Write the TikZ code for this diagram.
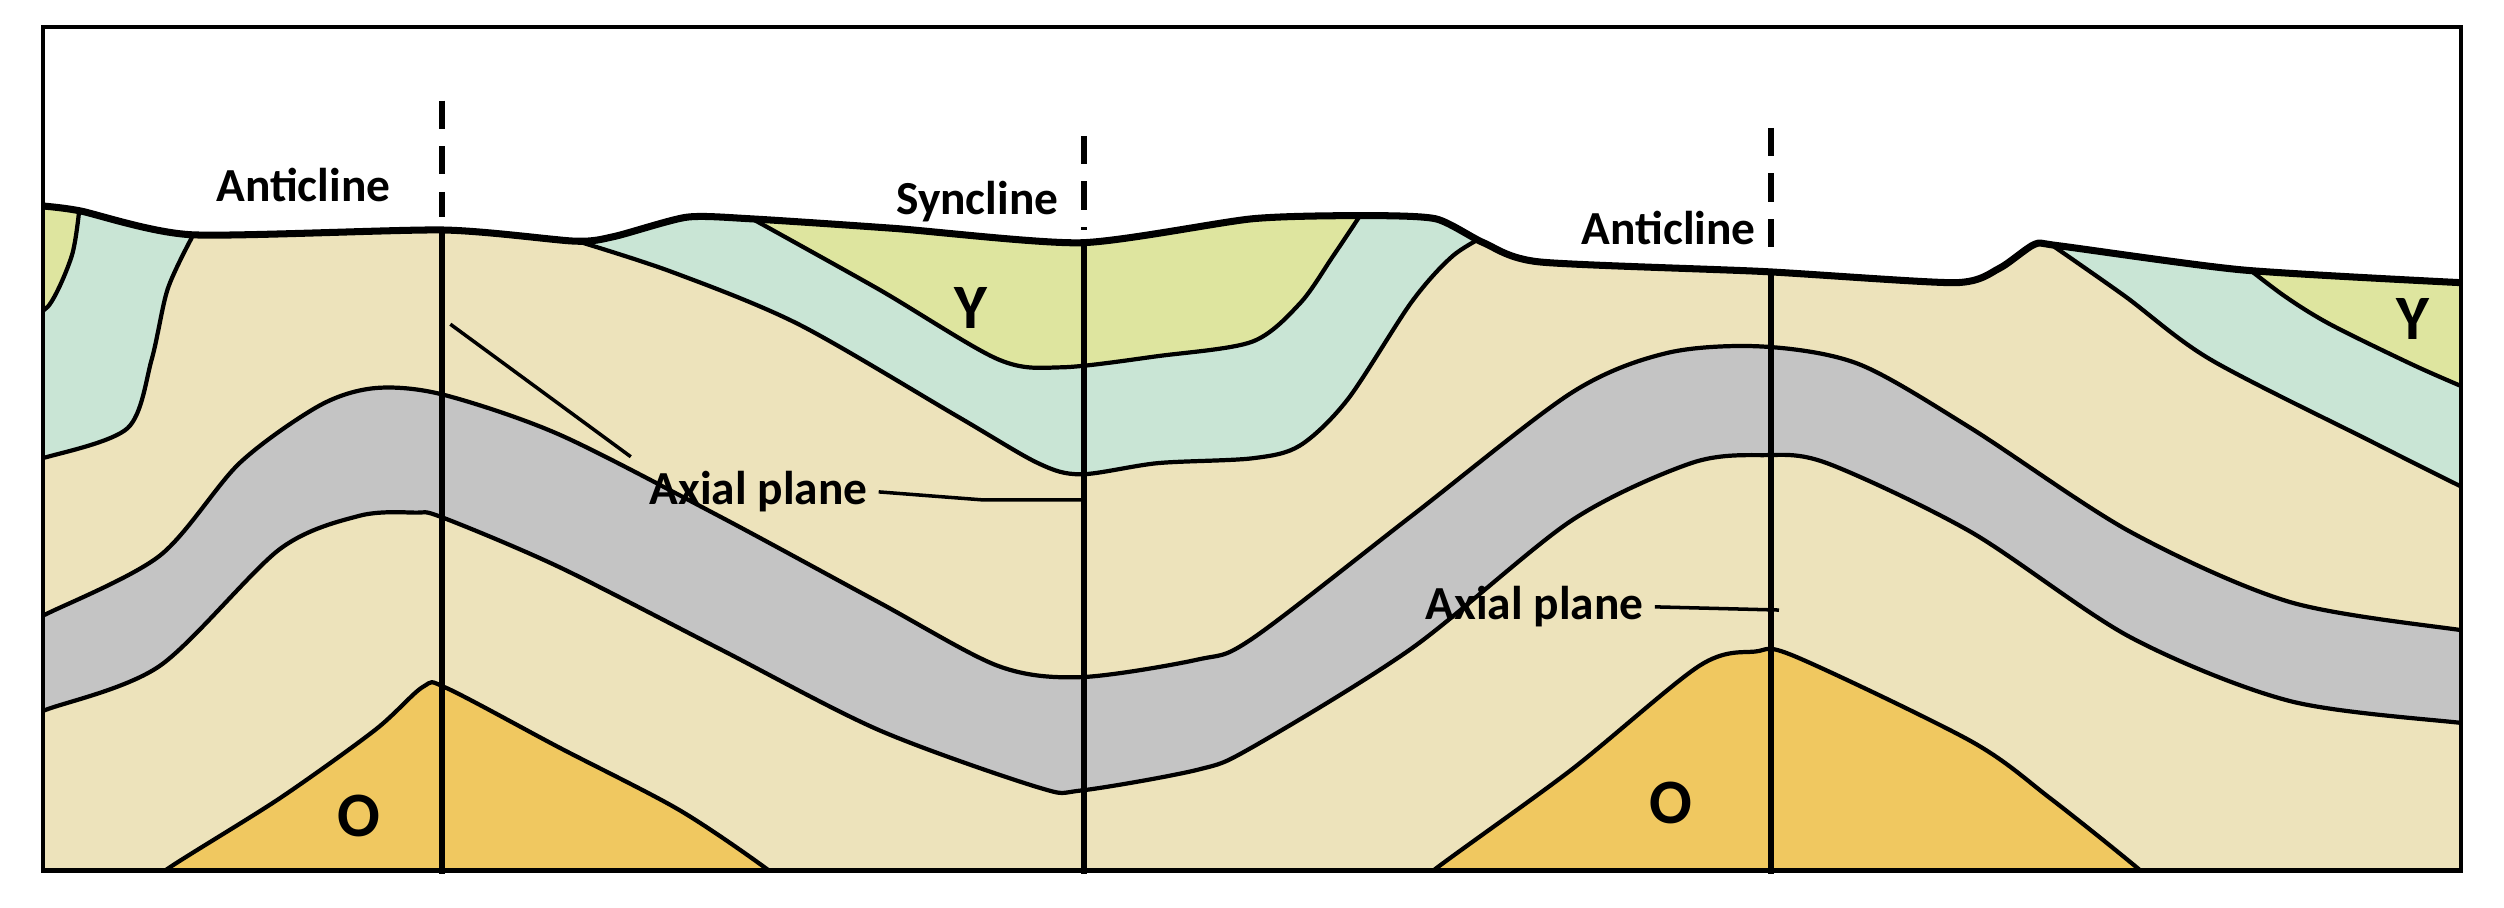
\documentclass[tikz,border=0pt]{standalone}
\usepackage{fontspec}
\setmainfont{Carlito}
\definecolor{beige}{HTML}{EDE3BB}
\definecolor{teal1}{HTML}{C9E5D5}
\definecolor{ygreen}{HTML}{DEE59F}
\definecolor{gray1}{HTML}{C4C4C4}
\definecolor{orng}{HTML}{F0C860}
\tikzset{
 layer/.style={draw=black,line width=1.2pt},
 lbl/.style={font=\bfseries\fontsize{13.5}{15}\selectfont,inner sep=1pt},
 big/.style={font=\bfseries\fontsize{18}{20}\selectfont,inner sep=1pt},
 axisline/.style={line width=1.7pt},
 axisdash/.style={line width=1.7pt,dash pattern=on 8pt off 5pt},
 leader/.style={line width=1pt}
}
\begin{document}
\begin{tikzpicture}[x=0.01597cm,y=-0.01597cm]
\useasboundingbox (0,0) rectangle (1568,568);
\def\surf{(27,129) (50,132) (120,147) (277,144) (360,151) (385,148) (430,136) (470,137) (560,143) (677,152) (784,137) (854,135) (899,137) (929,152) (964,164) (1104,170) (1224,177) (1252,168) (1274,153) (1290,154) (1404,169) (1541,177)}
\begin{scope}
\clip plot[smooth,tension=0.4] coordinates {\surf} -- (1541,545) -- (27,545) -- cycle;
\fill[beige] (0,0) rectangle (1568,568);
% left teal and Y
\fill[teal1,layer] plot[smooth] coordinates {(120,149) (105,181) (95,225) (80,268) (30,286) (10,288)} -- (10,80) -- (120,80) -- cycle;
\fill[ygreen,layer] plot[smooth] coordinates {(50,128) (45,160) (30,192) (10,200)} -- (10,80) -- cycle;
% middle teal and Y
\fill[teal1,layer] plot[smooth] coordinates {(355,149) (420,170) (500,203) (600,261) (650,290) (677,297) (725,290) (784,287) (814,279) (844,250) (884,189) (910,160) (935,145)} -- (935,80) -- (355,80) -- cycle;
\fill[ygreen,layer] plot[smooth] coordinates {(462,132) (550,181) (625,225) (665,230) (725,223) (784,214) (814,190) (835,160) (855,130)} -- (855,80) -- (462,80) -- cycle;
% right teal and Y
\fill[teal1,layer] plot[smooth] coordinates {(1277,148) (1330,185) (1384,225) (1484,276) (1544,306) (1560,312)} -- (1560,80) -- (1277,80) -- cycle;
\fill[ygreen,layer] plot[smooth] coordinates {(1400,162) (1430,185) (1459,203) (1510,228) (1544,243) (1560,250)} -- (1560,80) -- (1400,80) -- cycle;
% gray band
\fill[gray1,layer] plot[smooth] coordinates {(10,392) (30,384) (100,348) (150,290) (200,254) (235,243) (277,247) (350,272) (450,323) (550,377) (625,417) (677,424) (750,413) (784,400) (884,323) (984,246) (1044,221) (1104,217) (1164,228) (1234,268) (1334,333) (1434,377) (1544,395) (1560,397)}
 -- plot[smooth] coordinates {(1560,455) (1544,453) (1434,439) (1334,399) (1234,333) (1144,290) (1104,285) (1059,290) (984,326) (884,406) (784,468) (750,482) (677,495) (650,493) (550,457) (450,406) (350,355) (277,324) (260,321) (225,323) (175,344) (100,417) (30,444) (10,450)} -- cycle;
% orange
\fill[orng,layer] plot[smooth] coordinates {(95,555) (105,544) (175,500) (235,457) (265,430) (280,431) (350,468) (425,507) (480,544) (490,555)} -- cycle;
\fill[orng,layer] plot[smooth] coordinates {(889,555) (899,544) (984,482) (1064,417) (1099,408) (1124,411) (1234,464) (1284,500) (1339,544) (1349,555)} -- cycle;
\end{scope}
\draw[line width=2pt,line join=round] plot[smooth,tension=0.4] coordinates {\surf};
\draw[line width=1.3pt] (27,17) rectangle (1541,545);
% axes
\coordinate (a1t) at (277,63); \coordinate (a1s) at (277,136); \coordinate (a1b) at (277,547); \coordinate (a1g) at (277,144);
\coordinate (a2t) at (679,85); \coordinate (a2s) at (679,144); \coordinate (a2b) at (679,547); \coordinate (a2g) at (679,152);
\coordinate (a3t) at (1109,80); \coordinate (a3s) at (1109,160); \coordinate (a3b) at (1109,547); \coordinate (a3g) at (1109,170);
\draw[axisdash] (a1t) -- (a1s); \draw[axisline] (a1g) -- (a1b);
\draw[axisdash] (a2t) -- (a2s); \draw[axisline] (a2g) -- (a2b);
\draw[axisdash] (a3t) -- (a3s); \draw[axisline] (a3g) -- (a3b);
% labels
\node[lbl] (ant1) at (190,116) {Anticline};
\node[lbl] (syn) at (612,126) {Syncline};
\node[lbl] (ant2) at (1045,143) {Anticline};
\node[lbl] (ax1) at (475,308) {Axial plane};
\node[lbl] (ax2) at (961,380) {Axial plane};
\node[big] (y1) at (608,193) {Y};
\node[big] (y2) at (1511,200) {Y};
\node[big] (o1) at (225,511) {O};
\node[big] (o2) at (1046,503) {O};
\coordinate (d1) at (282,203); \coordinate (d2) at (395,286);
\coordinate (h1) at (615,313); \coordinate (h2) at (679,313);
\coordinate (h3) at (1114,382);
\draw[leader] (d1) -- (d2);
\draw[leader] ([xshift=2pt]ax1.east) -- (h1) -- (h2);
\draw[leader] ([xshift=2pt]ax2.east) -- (h3);
\end{tikzpicture}
\end{document}
